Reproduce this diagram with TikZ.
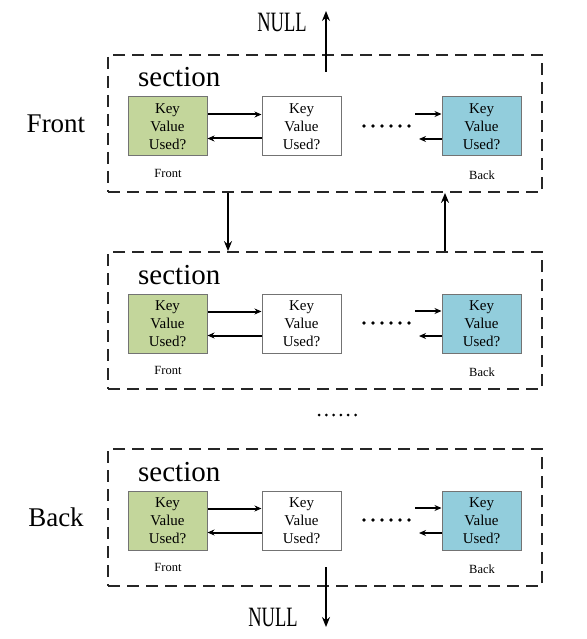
\documentclass[tikz,border=0pt]{standalone}
\usepackage{fontspec}
\setmainfont{Liberation Serif}
\newfontfamily\nullf[FakeStretch=0.66]{Liberation Serif}
\usetikzlibrary{arrows.meta}
\definecolor{kgreen}{RGB}{195,214,155}
\definecolor{kblue}{RGB}{146,205,220}
\begin{document}
\begin{tikzpicture}[x=1pt,y=-1pt,
  secbox/.style={draw=black!85,line width=1.8pt,dash pattern=on 12pt off 7pt,minimum width=434pt,minimum height=137pt,inner sep=0pt},
  kv/.style={draw=black!55,line width=1pt,minimum width=79pt,minimum height=59pt,inner sep=0pt,align=center,font=\fontsize{15}{18}\selectfont},
  link/.style={line width=2pt,-{Stealth[length=7pt,width=6pt]}},
  big/.style={line width=2pt,-{Stealth[length=10pt,width=8pt]}},
  lbl/.style={font=\fontsize{12.5}{14}\selectfont},
  dot/.style={fill=black,draw=none}]
\useasboundingbox (0,0) rectangle (586,639);
\fill[white] (0,0) rectangle (586,639);
\foreach \s/\dy in {1/0,2/197,3/394}{
  \node[secbox] (sec\s) at (325,123.5+\dy) {};
  \node[anchor=base west,font=\fontsize{29}{32}\selectfont,inner sep=0pt] (st\s) at (138,87+\dy) {section};
  \node[kv,fill=kgreen] (g\s) at (167.5,126.5+\dy) {Key\\Value\\Used?};
  \node[kv,fill=white] (w\s) at (301.5,126.5+\dy) {Key\\Value\\Used?};
  \node[kv,fill=kblue] (b\s) at (481.5,126.5+\dy) {Key\\Value\\Used?};
  \node[lbl,anchor=base] (fr\s) at (168,177+\dy) {Front};
  \node[lbl,anchor=base] (bk\s) at (482,179+\dy) {Back};
  \draw[link] ([yshift=12pt]g\s.east) -- ([yshift=12pt]w\s.west);
  \draw[link] ([yshift=-12pt]w\s.west) -- ([yshift=-12pt]g\s.east);
  \coordinate (ri\s) at (415,114+\dy);
  \coordinate (lo\s) at (419,139+\dy);
  \draw[link] (ri\s) -- (ri\s -| b\s.west);
  \draw[link] (lo\s -| b\s.west) -- (lo\s);
  \foreach \k in {0,...,5}{\fill[dot] (364+9*\k,126+\dy) circle (1.9pt);}
}
\node[font=\fontsize{27}{30}\selectfont] (front) at (56,124) {Front};
\node[font=\fontsize{27}{30}\selectfont] (back) at (56,517) {Back};
% NULL top
\node[font=\nullf\fontsize{28}{30}\selectfont,inner sep=0pt] (nulltop) at (282,22) {NULL};
\coordinate (ntstart) at (326,72);
\coordinate (ntend) at (326,11);
\draw[big] (ntstart) -- (ntend);
% NULL bottom
\node[font=\nullf\fontsize{28}{30}\selectfont,inner sep=0pt] (nullbot) at (273,617) {NULL};
\coordinate (nbstart) at (326,567);
\coordinate (nbend) at (326,627);
\draw[big] (nbstart) -- (nbend);
% between sections
\coordinate (xa) at (228,0);
\coordinate (xb) at (445,0);
\draw[big] (sec1.south -| xa) -- (sec2.north -| xa);
\draw[big] (sec2.north -| xb) -- (sec1.south -| xb);
% middle dots
\foreach \k in {0,...,5}{\fill[dot] (319+7.3*\k,415) circle (1.5pt);}
\end{tikzpicture}
\end{document}
